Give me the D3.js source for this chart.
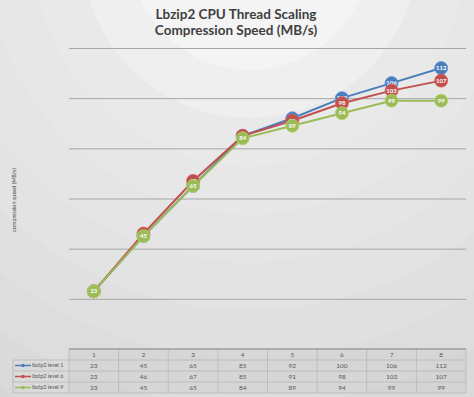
<!DOCTYPE html>
<html>
<head>
<meta charset="utf-8">
<script src="https://cdn.jsdelivr.net/npm/d3@7"></script>
<style>
	body { margin: 0; padding: 0; background: #fff; }
	svg { display: block; }
</style>
</head>
<body>
<div id="chart"></div>
<script>

// chart data
var threads = ["1", "2", "3", "4", "5", "6", "7", "8"];
var seriesNames = ["lbzip2 level 1", "lbzip2 level 6", "lbzip2 level 9"];
var level1 = [23, 45, 65, 85, 92, 100, 106, 112];
var level6 = [23, 46, 67, 85, 91, 98, 103, 107];
var level9 = [23, 45, 65, 84, 89, 94, 99, 99];
var gridValues = [20, 40, 60, 80, 100, 120];

var seriesColors = ["#4a7ebb", "#c0504d", "#9bbb59"];
var series = [level1, level6, level9].map(function(v, i){

	return {name: seriesNames[i], values: v, color: seriesColors[i]};
});

// margins
var width = 474,
	height = 397,
	margin = {top: 48, left: 69, right: 8, bottom: 48};

var svg = d3.select("#chart")
	.append("svg")
	.attr("width", width)
	.attr("height", height);

// background with soft rings
svg.append("rect")
	.attr("width", width)
	.attr("height", height)
	.attr("fill", "#cdcdcd");

var rings = d3.range(11);
svg.append("g")
	.selectAll("circle")
	.data(rings)
	.enter()
	.append("circle")
	.attr("cx", 250)
	.attr("cy", -50)
	.attr("r", function(d){

		return 600 - d * 48;
	})
	.attr("fill", "#ffffff")
	.attr("fill-opacity", function(d){

		return d > 8 ? 0.3 : 0.1;
	});

// scales
var x = d3.scaleBand()
	.domain(threads)
	.range([margin.left, width - margin.right]);

var y = d3.scaleLinear()
	.domain([0, 120])
	.range([349, margin.top]);

var cx = function(i){

	return x(threads[i]) + x.bandwidth() / 2;
};

// grid lines
var grid = svg.append("g")
	.attr("transform", "translate(" + margin.left + ",0)")
	.call(d3.axisLeft(y)
		.tickValues(gridValues)
		.tickSize(-(width - margin.right - margin.left))
		.tickFormat(""));

grid.select(".domain").remove();
grid.selectAll("line")
	.attr("stroke", "#a6a6a6")
	.attr("stroke-width", 1);

// title
var title = svg.append("text")
	.attr("x", 236)
	.attr("y", 19)
	.attr("text-anchor", "middle")
	.attr("font-family", "Lato, 'Open Sans', sans-serif")
	.attr("font-weight", "bold")
	.attr("font-size", "13.5px")
	.attr("fill", "#404040");

title.append("tspan")
	.attr("x", 236)
	.text("Lbzip2 CPU Thread Scaling");

title.append("tspan")
	.attr("x", 236)
	.attr("dy", 16)
	.text("Compression Speed (MB/s)");

// y axis title
svg.append("text")
	.attr("transform", "translate(16,200) rotate(-90)")
	.attr("text-anchor", "middle")
	.attr("font-family", "Lato, 'Open Sans', sans-serif")
	.attr("font-size", "5.5px")
	.attr("fill", "#404040")
	.text("compression speed  (MB/s)");

// lines
var line = d3.line()
	.x(function(d, i){ 

		return cx(i); 
	})
	.y(function(d){ 

		return y(d); 
	});

var groups = svg.append("g")
	.selectAll("g")
	.data(series)
	.enter()
	.append("g");

groups.append("path")
	.attr("d", function(d){

		return line(d.values);
	})
	.attr("fill", "none")
	.attr("stroke", function(d){

		return d.color;
	})
	.attr("stroke-width", 2);

// markers with value labels
groups.each(function(s){

	var g = d3.select(this);
	var pts = g.selectAll(".pt")
		.data(s.values)
		.enter()
		.append("g")
		.attr("class", "pt")
		.attr("transform", function(d, i){

			return "translate(" + cx(i) + "," + y(d) + ")";
		});

	pts.append("circle")
		.attr("r", 6.5)
		.attr("fill", s.color)
		.attr("stroke", d3.color(s.color).brighter(0.4))
		.attr("stroke-width", 0.8);

	pts.append("text")
		.attr("text-anchor", "middle")
		.attr("dy", "0.35em")
		.attr("font-family", "Lato, sans-serif")
		.attr("font-weight", "bold")
		.attr("font-size", "6px")
		.attr("fill", "#ffffff")
		.text(function(d){

			return d;
		});
});

// data table below the plot
var rows = d3.scaleBand()
	.domain(["head"].concat(seriesNames))
	.range([349, 393]);

var table = svg.append("g");

table.append("rect")
	.attr("x", margin.left)
	.attr("y", 349)
	.attr("width", width - margin.right - margin.left)
	.attr("height", 44)
	.attr("fill", "#c8c8c8")
	.attr("fill-opacity", 0.3);

// horizontal row lines
table.selectAll(".hline")
	.data(seriesNames)
	.enter()
	.append("line")
	.attr("x1", 13)
	.attr("x2", width - margin.right)
	.attr("y1", function(d){

		return rows(d);
	})
	.attr("y2", function(d){

		return rows(d);
	})
	.attr("stroke", "#b8b8b8")
	.attr("stroke-width", 0.8);

table.append("line")
	.attr("x1", 13)
	.attr("x2", width - margin.right)
	.attr("y1", 393)
	.attr("y2", 393)
	.attr("stroke", "#b8b8b8")
	.attr("stroke-width", 0.8);

// vertical column lines
table.selectAll(".vline")
	.data(threads.concat(["end"]))
	.enter()
	.append("line")
	.attr("x1", function(d){

		return d === "end" ? width - margin.right : x(d);
	})
	.attr("x2", function(d){

		return d === "end" ? width - margin.right : x(d);
	})
	.attr("y1", 349)
	.attr("y2", 393)
	.attr("stroke", "#b8b8b8")
	.attr("stroke-width", 0.8);

table.append("line")
	.attr("x1", 13)
	.attr("x2", 13)
	.attr("y1", rows(seriesNames[0]))
	.attr("y2", 393)
	.attr("stroke", "#b8b8b8")
	.attr("stroke-width", 0.8);

// x axis line on top of the table
table.append("line")
	.attr("x1", margin.left)
	.attr("x2", width - margin.right)
	.attr("y1", 349)
	.attr("y2", 349)
	.attr("stroke", "#7f7f7f")
	.attr("stroke-width", 1.2);

// header labels
table.selectAll(".head")
	.data(threads)
	.enter()
	.append("text")
	.attr("x", function(d, i){

		return cx(i);
	})
	.attr("y", rows("head") + rows.bandwidth() / 2)
	.attr("dy", "0.35em")
	.attr("text-anchor", "middle")
	.attr("font-family", "Lato, sans-serif")
	.attr("font-size", "6.5px")
	.attr("fill", "#595959")
	.text(function(d){

		return d;
	});

// series rows
series.forEach(function(s){

	var ry = rows(s.name) + rows.bandwidth() / 2;

	table.append("line")
		.attr("x1", 15)
		.attr("x2", 31)
		.attr("y1", ry)
		.attr("y2", ry)
		.attr("stroke", s.color)
		.attr("stroke-width", 1.5);

	table.append("circle")
		.attr("cx", 23)
		.attr("cy", ry)
		.attr("r", 1.8)
		.attr("fill", s.color);

	table.append("text")
		.attr("x", 32)
		.attr("y", ry)
		.attr("dy", "0.35em")
		.attr("font-family", "Lato, sans-serif")
		.attr("font-size", "5.5px")
		.attr("fill", "#595959")
		.text(s.name);

	table.selectAll(null)
		.data(s.values)
		.enter()
		.append("text")
		.attr("x", function(d, i){

			return cx(i);
		})
		.attr("y", ry)
		.attr("dy", "0.35em")
		.attr("text-anchor", "middle")
		.attr("font-family", "Lato, sans-serif")
		.attr("font-size", "6.5px")
		.attr("fill", "#595959")
		.text(function(d){

			return d;
		});
});

</script>
</body>
</html>
